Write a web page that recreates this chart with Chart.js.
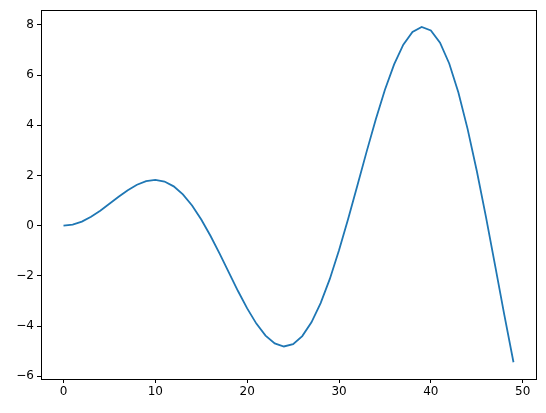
<!DOCTYPE html>
<html>
<head>
<meta charset="utf-8">
<script src="https://cdn.jsdelivr.net/npm/chart.js@4"></script>
<style>
  html, body { margin: 0; padding: 0; background: #fff; }
  canvas { display: block; }
</style>
</head>
<body>
<canvas id="chart" width="546" height="413"></canvas>
<script>
// values, one per sample 0..49
const yValues = [
    0.000, 0.041, 0.162, 0.352, 0.595, 0.870, 1.152, 1.414, 1.630, 1.772,
    1.820, 1.756, 1.565, 1.246, 0.804, 0.246, -0.403, -1.117, -1.863, -2.604,
    -3.297, -3.901, -4.379, -4.693, -4.813, -4.719, -4.398, -3.851, -3.085, -2.122,
    -0.981, 0.274, 1.599, 2.939, 4.230, 5.411, 6.423, 7.209, 7.717, 7.914,
    7.775, 7.290, 6.459, 5.300, 3.856, 2.188, 0.347, -1.592, -3.555, -5.440
];
const xTicks = [0, 10, 20, 30, 40, 50];
const yTicks = [-6, -4, -2, 0, 2, 4, 6, 8];

const points = yValues.map((y, i) => ({ x: i, y: y }));

// draws the top and right spines
const frame = {
    id: "frame",
    afterDraw(chart) {
        const a = chart.chartArea;
        const ctx = chart.ctx;
        ctx.save();
        ctx.strokeStyle = "#000";
        ctx.lineWidth = 1;
        ctx.strokeRect(Math.round(a.left) + 0.5, Math.round(a.top) + 0.5,
                       Math.round(a.right - a.left), Math.round(a.bottom - a.top));
        ctx.restore();
    }
};

const minus = v => String(v).replace("-", "\u2212");

Chart.defaults.font.family = "DejaVu Sans";
Chart.defaults.font.size = 12;
Chart.defaults.color = "#000";

new Chart(document.getElementById("chart").getContext("2d"), {
    type: "line",
    data: {
        datasets: [{
            data: points,
            borderColor: "#1f77b4",
            borderWidth: 1.8,
            pointRadius: 0,
            fill: false,
            tension: 0
        }]
    },
    options: {
        responsive: false,
        animation: false,
        layout: { padding: { left: 0, top: 10, right: 10, bottom: 0 } },
        plugins: {
            legend: { display: false },
            tooltip: { enabled: false }
        },
        scales: {
            x: {
                type: "linear",
                min: -2.45,
                max: 51.45,
                afterBuildTicks: s => { s.ticks = xTicks.map(v => ({ value: v })); },
                afterFit: s => { s.height = 34; },
                ticks: { padding: 2, callback: v => minus(v), maxRotation: 0 },
                grid: { drawOnChartArea: false, drawTicks: true, tickLength: 4, color: "#000" },
                border: { display: true, color: "#000", width: 1 }
            },
            y: {
                min: -6.108,
                max: 8.582,
                afterBuildTicks: s => { s.ticks = yTicks.map(v => ({ value: v })); },
                afterFit: s => { s.width = 41; },
                ticks: { padding: 3, callback: v => minus(v) },
                grid: { drawOnChartArea: false, drawTicks: true, tickLength: 4, color: "#000" },
                border: { display: true, color: "#000", width: 1 }
            }
        }
    },
    plugins: [frame]
});
</script>
</body>
</html>
